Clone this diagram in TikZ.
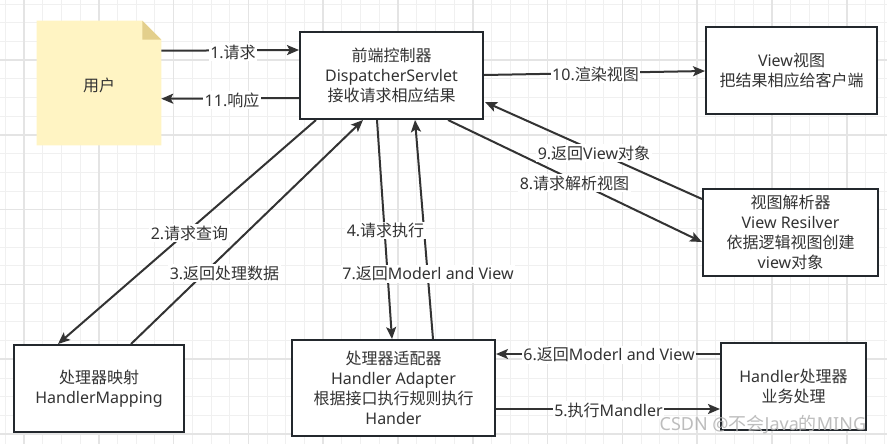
\documentclass[tikz,border=0pt]{standalone}
\usepackage{fontspec}
\setmainfont{Noto Sans CJK SC}
\newfontfamily\Latf{Noto Sans}
\newcommand\Lat[1]{{\Latf #1}}
\usetikzlibrary{arrows.meta,calc}
\definecolor{txt}{HTML}{333333}
\definecolor{linec}{HTML}{333333}
\definecolor{boxc}{HTML}{23282D}
\definecolor{notec}{HTML}{FFF4C3}
\definecolor{foldc}{HTML}{E3CF8C}
\definecolor{gminc}{HTML}{F0F0F0}
\definecolor{gmajc}{HTML}{E4E4E4}
\newcommand\mainfs{\fontsize{12pt}{15pt}\selectfont}
\tikzset{
  box/.style={draw=boxc, line width=1.5pt, fill=white, align=center, text=txt, inner sep=0pt, font=\mainfs},
  conn/.style={draw=linec, line width=1.5pt, -{Stealth[length=9pt,width=7.5pt,inset=2pt]}},
  lbl/.style={fill=white, inner sep=1pt, text=txt, font=\mainfs},
  gminor/.style={draw=gminc, line width=0.75pt},
  gmajor/.style={draw=gmajc, line width=1.1pt},
}
\begin{document}
\begin{tikzpicture}[x=0.75pt,y=-0.75pt]
\useasboundingbox (0,0) rectangle (887,444);
\fill[white] (0,0) rectangle (887,444);
% grid
\foreach \i in {0,...,47} { \draw[gminor] ({5.3+18.7*\i},0) -- ({5.3+18.7*\i},444); }
\foreach \i in {0,...,23} { \draw[gminor] (0,{4+18.7*\i}) -- (887,{4+18.7*\i}); }
\foreach \i in {0,...,11} { \draw[gmajor] ({24+74.8*\i},0) -- ({24+74.8*\i},444); }
\foreach \i in {0,...,5} { \draw[gmajor] (0,{60+74.8*\i}) -- (887,{60+74.8*\i}); }

% user note
\node[minimum width=93pt, minimum height=93pt, inner sep=0pt] (user) at (99,83) {};
\fill[notec] (user.north west) -- ($(user.north east)+(-19,0)$) -- ($(user.north east)+(0,19)$) -- (user.south east) -- (user.south west) -- cycle;
\fill[foldc] ($(user.north east)+(-19,0)$) -- ($(user.north east)+(-19,19)$) -- ($(user.north east)+(0,19)$) -- cycle;
\node[text=txt, font=\mainfs] (usertext) at ($(user.center)+(0,2)$) {用户};

% boxes
\node[box, minimum width=137.25pt, minimum height=65.25pt] (disp) at (391.5,75.5)
  {前端控制器\\\Lat{DispatcherServlet}\\接收请求相应结果};
\node[box, minimum width=128.25pt, minimum height=65.25pt] (view) at (791.5,70.5)
  {\Lat{View}视图\\把结果相应给客户端};
\node[box, minimum width=131.25pt, minimum height=65.25pt] (res) at (790.5,232.5)
  {视图解析器\\\Lat{View Resilver}\\依据逻辑视图创建\\\Lat{view}对象};
\node[box, minimum width=127.5pt, minimum height=65.25pt] (map) at (99,388.5)
  {处理器映射\\\Lat{HandlerMapping}};
\node[box, minimum width=152.25pt, minimum height=72pt] (ad) at (393.5,388)
  {处理器适配器\\\Lat{Handler Adapter}\\根据接口执行规则执行\\\Lat{Hander}};
\node[box, minimum width=108.75pt, minimum height=65.25pt] (hd) at (793.5,386.5)
  {\Lat{Handler}处理器\\业务处理};

% connectors
\draw[conn] ($(user.north east)+(0,30)$) -- ($(disp.north west)+(0,19)$);
\draw[conn] ($(disp.north west)+(0,67)$) -- ($(user.north east)+(0,78)$);
\draw[conn] ($(disp.north east)+(0,44)$) -- ($(view.north west)+(0,45)$);
\draw[conn] ($(res.north west)+(0,11)$) -- ($(disp.north east)+(1,71)$);
\draw[conn] ($(disp.south east)+(-36,0)$) -- ($(res.north west)+(0,54)$);
\draw[conn] ($(disp.south west)+(17,0)$) -- ($(map.north west)+(45,0)$);
\draw[conn] ($(map.north west)+(118,0)$) -- ($(disp.south west)+(64,0)$);
\draw[conn] ($(disp.south west)+(78,0)$) -- ($(ad.north west)+(101,0)$);
\draw[conn] ($(ad.north west)+(142,0)$) -- ($(disp.south west)+(116,0)$);
\draw[conn] ($(hd.north west)+(0,12)$) -- ($(ad.north east)+(0,15)$);
\draw[conn] ($(ad.north east)+(0,70)$) -- ($(hd.north west)+(0,67)$);

% labels
\node[lbl] (l1) at (233,52) {\Lat{1.}请求};
\node[lbl] (l11) at (232,100) {\Lat{11.}响应};
\node[lbl] (l10) at (595.5,74) {\Lat{10.}渲染视图};
\node[lbl] (l9) at (594,153) {\Lat{9.}返回\Lat{View}对象};
\node[lbl] (l8) at (574.5,183) {\Lat{8.}请求解析视图};
\node[lbl] (l2) at (189.5,233) {\Lat{2.}请求查询};
\node[lbl] (l3) at (224.5,273) {\Lat{3.}返回处理数据};
\node[lbl] (l4) at (385.5,230.5) {\Lat{4.}请求执行};
\node[lbl] (l7) at (428,274) {\Lat{7.}返回\Lat{Moderl and View}};
\node[lbl] (l6) at (609,355) {\Lat{6.}返回\Lat{Moderl and View}};
\node[lbl] (l5) at (608.5,410) {\Lat{5.}执行\Lat{Mandler}};

% watermark
\node[text=black!30, opacity=0.85, font=\fontsize{13.5pt}{15pt}\selectfont, anchor=west] (wm) at (655,425)
  {\Lat{CSDN @}不会\Lat{Java}的\Lat{MING}};
\end{tikzpicture}
\end{document}
